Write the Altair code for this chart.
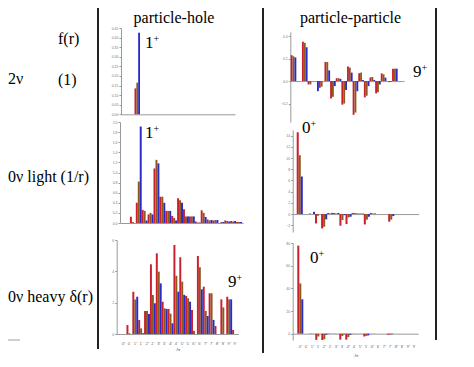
import altair as alt
import pandas as pd

# ---------------- data ----------------
J = ["0⁺", "0⁻", "1⁺", "1⁻", "2⁺", "2⁻", "3⁺", "3⁻", "4⁺", "4⁻",
     "5⁺", "5⁻", "6⁺", "6⁻", "7⁺", "7⁻", "8⁺", "8⁻", "9⁺", "9⁻"]
SERIES = ["s1", "s2", "s3"]
COLORS = ["#cc1f2e", "#8b5a1c", "#2a2acc"]

ph_2nu_s1 = [0, 0, 0.135, 0, 0, 0, 0, 0, 0, 0, 0, 0, 0, 0, 0, 0, 0, 0, 0, 0]
ph_2nu_s2 = [0, 0, 0.165, 0, 0, 0, 0, 0, 0, 0, 0, 0, 0, 0, 0, 0, 0, 0, 0, 0]
ph_2nu_s3 = [0, 0, 0.425, 0, 0, 0, 0, 0, 0, 0, 0, 0, 0, 0, 0, 0, 0, 0, 0, 0]

ph_light_s1 = [0, 0.125, 0.40, 0.26, 0.17, 1.08, 0.52, 0.24, 0.14, 0.49, 0.27, 0.13, 0.03, 0.25, 0.07, 0.05, 0.00, 0.05, 0.04, 0.02]
ph_light_s2 = [0, 0.02, 0.82, 0.24, 0.20, 1.25, 0.52, 0.24, 0.10, 0.45, 0.13, 0.13, 0.01, 0.20, 0.05, 0.06, 0.02, 0.04, 0.03, 0.02]
ph_light_s3 = [0, 0.00, 1.91, 0.05, 0.17, 1.18, 0.40, 0.24, 0.05, 0.40, 0.13, 0.13, 0.01, 0.12, 0.06, 0.06, 0.02, 0.03, 0.04, 0.02]

ph_heavy_s1 = [0, 0.57, 2.70, 0.89, 1.47, 4.45, 5.15, 2.06, 1.60, 5.68, 4.90, 2.43, 1.53, 4.98, 3.02, 2.60, 0.51, 2.21, 2.38, 0.26]
ph_heavy_s2 = [0, 0.05, 2.20, 0.36, 1.47, 2.49, 3.98, 1.64, 1.30, 3.72, 3.34, 2.28, 0.20, 4.26, 1.47, 2.60, 0.00, 1.70, 2.21, 0.00]
ph_heavy_s3 = [0, 0.00, 2.38, 0.05, 1.28, 1.96, 3.23, 1.60, 0.68, 2.70, 2.50, 2.06, 0.00, 2.85, 1.15, 0.90, 0.00, 0.00, 2.21, 0.00]

pp_2nu_s1 = [0.23, 0, 0.35, -0.03, 0, -0.06, 0.17, -0.155, 0.025, -0.21, 0.13, -0.30, 0.07, -0.145, 0.033, -0.11, 0.068, 0, 0.11, 0]
pp_2nu_s2 = [0.22, 0, 0.34, -0.03, 0, -0.05, 0.17, -0.14, 0.025, -0.20, 0.12, -0.28, 0.075, -0.13, 0.036, -0.10, 0.06, -0.01, 0.11, 0]
pp_2nu_s3 = [0.21, 0, 0.30, 0, -0.09, 0, 0.095, -0.045, 0.02, -0.08, 0.075, -0.09, 0.01, -0.045, 0.01, -0.03, 0.03, -0.005, 0.11, 0]

pp_light_s1 = [14.6, 0, 0.1, -1.67, -2.56, 0.2, 0.2, -2.08, -1.79, 0.2, 0.1, -1.85, 0.2, 0, 0, -1.37, 0, 0, 0, 0]
pp_light_s2 = [10.5, 0, 0, -0.3, -2.26, 0.1, 0.1, -1.07, -0.6, 0.2, 0.1, -1.0, 0.1, 0, 0, -1.0, 0, 0, 0, 0]
pp_light_s3 = [6.7, 0, 0.4, 0, -0.95, 0.2, 0.2, -0.2, -0.48, 0.1, 0.1, -0.48, 0.1, 0, 0, -0.36, 0, 0, 0, 0]

pp_heavy_s1 = [77.9, 0, 0.3, -5.5, -5.6, 0.3, 0.2, -5.3, -5.3, 0.2, 0.1, -2.5, 0.1, 0, 0, -1.0, 0, 0, 0, 0]
pp_heavy_s2 = [44.5, 0, 0.2, -2.5, -5.0, 0.2, 0.1, -2.0, -3.0, 0.1, 0.1, -2.0, 0.1, 0, 0, -0.8, 0, 0, 0, 0]
pp_heavy_s3 = [30.4, 0, 0.1, 0, -1.0, 0.1, 0.1, -0.5, -1.0, 0.1, 0.1, -1.5, 0.1, 0, 0, -0.4, 0, 0, 0, 0]

# ---------------- layout ----------------
W, H = 458, 351
SERIF = "Liberation Serif"
SANS = "Liberation Sans"
AXC = "#9a9a9a"


def long(a, b, c):
    rows = []
    for s, vals in zip(SERIES, (a, b, c)):
        for j, v in zip(J, vals):
            rows.append({"J": j, "s": s, "v": v})
    return pd.DataFrame(rows)


def panel(df, xr, s0, st, yr, ydom, yticks, yfmt, xlabels=False, lab_pad=6, title_pad=1):
    a0, a1 = xr
    span = a1 - a0
    po = max(0.0, (span / st - 20) / 2)
    leftover = span - 20 * st
    align = 0.5 if leftover <= 0 else min(1.0, max(0.0, (s0 - a0) / leftover))
    yzero = yr[0] + (0 - ydom[0]) / (ydom[1] - ydom[0]) * (yr[1] - yr[0])
    if xlabels:
        xaxis = alt.Axis(orient="bottom", offset=yzero - H, domainColor=AXC, domainWidth=1,
                         ticks=False, tickSize=0, grid=False, labels=True,
                         labelFontSize=4, labelColor="#666", labelFont=SANS,
                         labelPadding=lab_pad, labelAngle=0, labelOverlap=False,
                         title="Jπ", titleFontSize=5, titleFont=SERIF, titleFontStyle="italic",
                         titleFontWeight="normal", titleColor="#666", titlePadding=title_pad)
    else:
        xaxis = alt.Axis(orient="bottom", offset=yzero - H, domainColor=AXC, domainWidth=1,
                         ticks=False, tickSize=0, grid=False, labels=False, title=None)
    yaxis = alt.Axis(orient="left", offset=-a0, values=yticks, format=yfmt,
                     domainColor=AXC, tickColor=AXC, tickSize=2, grid=False,
                     labelFontSize=3.5, labelColor="#777", labelFont=SANS, labelPadding=1,
                     title=None)
    return alt.Chart(df).mark_bar().encode(
        x=alt.X("J:N", sort=J,
                scale=alt.Scale(domain=J, range=[a0, a1], paddingInner=0,
                                paddingOuter=po, align=align),
                axis=xaxis),
        xOffset=alt.XOffset("s:N", sort=SERIES,
                            scale=alt.Scale(domain=SERIES, paddingInner=0, paddingOuter=0)),
        y=alt.Y("v:Q", scale=alt.Scale(domain=ydom, range=yr, nice=False, zero=False),
                axis=yaxis),
        y2=alt.datum(0),
        color=alt.Color("s:N", scale=alt.Scale(domain=SERIES, range=COLORS), legend=None),
    )


p1 = panel(long(ph_2nu_s1, ph_2nu_s2, ph_2nu_s3), (113, 227), 115.5, 5.5,
           [106.3, 20], [0, 0.45], [0, 0.05, 0.1, 0.15, 0.2, 0.25, 0.3, 0.35, 0.4, 0.45], ".2f")
p2 = panel(long(ph_light_s1, ph_light_s2, ph_light_s3), (112, 235), 116, 5.9,
           [215, 114], [0, 2.0], [0, 0.2, 0.4, 0.6, 0.8, 1.0, 1.2, 1.4, 1.6, 1.8, 2.0], ".1f")
p3 = panel(long(ph_heavy_s1, ph_heavy_s2, ph_heavy_s3), (108.7, 230.3), 112.6, 5.87,
           [326, 232], [0, 6], [0, 2, 4, 6], "d", xlabels=True, lab_pad=7, title_pad=1)
p4 = panel(long(pp_2nu_s1, pp_2nu_s2, pp_2nu_s3), (282.3, 396), 282.7, 5.63,
           [114, 24], [-0.364, 0.436], [-0.2, 0, 0.2, 0.4], ".1f")
p5 = panel(long(pp_light_s1, pp_light_s2, pp_light_s3), (284.7, 410.7), 288.7, 6.1,
           [224, 122], [-3.2, 15.0], [-2, 0, 2, 4, 6, 8, 10, 12, 14], "d")
p6 = panel(long(pp_heavy_s1, pp_heavy_s2, pp_heavy_s3), (284.7, 410.3), 289.3, 6.0,
           [332, 234.7], [-5.6, 80.5], [0, 20, 40, 60, 80], "d", xlabels=True, lab_pad=11, title_pad=4)

dummy = pd.DataFrame({"k": [0]})


def txt(s, x, y, size=16, align="left", baseline="alphabetic", color="black", font=SERIF):
    return alt.Chart(dummy).mark_text(text=s, align=align, baseline=baseline, font=font,
                                      fontSize=size, color=color).encode(
        x=alt.value(x), y=alt.value(y))


def sup(base, x, y):
    return [txt(base, x, y, size=17), txt("+", x + 8.5, y - 6.5, size=10)]


def vline(x, y0, y1, color="#222", width=2):
    return alt.Chart(dummy).mark_rule(color=color, strokeWidth=width).encode(
        x=alt.value(x), y=alt.value(y0), y2=alt.value(y1))


annots = [
    txt("particle-hole", 166, 15, align="center"),
    txt("particle-particle", 342.5, 15, align="center"),
    txt("f(r)", 50, 36),
    txt("2ν", 0, 76),
    txt("(1)", 50, 77),
    txt("0ν light (1/r)", 0, 174),
    txt("0ν heavy δ(r)", 0, 294),
    vline(90, 0, 341),
    vline(255, 0, 345),
    vline(428, 0, 332),
    alt.Chart(dummy).mark_rule(color="#d0d0d0", strokeWidth=2).encode(
        x=alt.value(0), x2=alt.value(12), y=alt.value(332)),
]
annots += sup("1", 137, 40.3)
annots += sup("1", 137, 130.3)
annots += sup("9", 220, 279)
annots += sup("9", 405, 69)
annots += sup("0", 294, 125)
annots += sup("0", 302, 255)

chart = alt.layer(p1, p2, p3, p4, p5, p6, *annots).resolve_scale(
    x="independent", y="independent", xOffset="independent"
).resolve_axis(
    x="independent", y="independent"
).properties(
    width=W, height=H, padding=0, autosize=alt.AutoSizeParams(type="none"),
    background="white"
).configure_view(strokeWidth=0)

chart.save("out.html", embed_options={"renderer": "svg", "actions": False})
